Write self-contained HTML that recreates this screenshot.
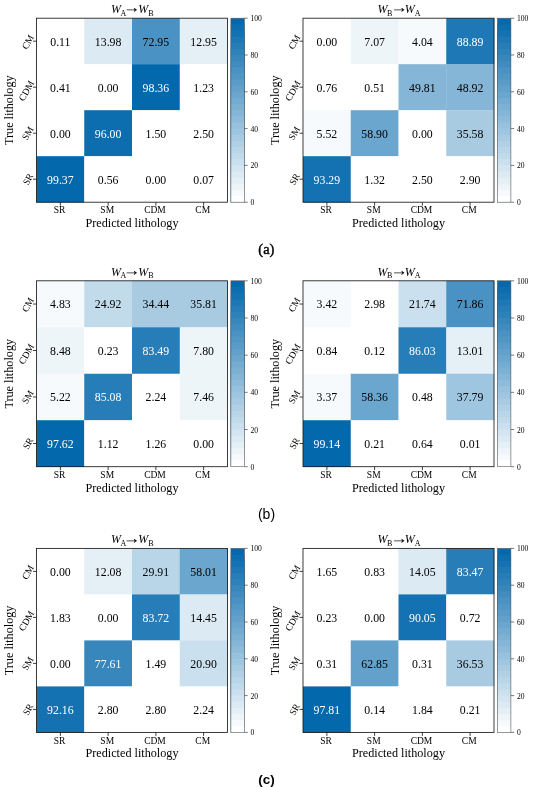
<!DOCTYPE html><html><head><meta charset="utf-8"><title>Confusion matrices</title>
<style>html,body{margin:0;padding:0;background:#fff}svg{display:block}text{font-family:"Liberation Serif","Times New Roman",serif}</style></head><body>
<svg width="533" height="787" viewBox="0 0 533 787">
<rect width="533" height="787" fill="#fff"/>
<g>
<rect x="36.50" y="18.20" width="48.05" height="46.30" fill="#ffffff"/>
<rect x="84.25" y="18.20" width="48.05" height="46.30" fill="#dceaf4"/>
<rect x="132.00" y="18.20" width="48.05" height="46.30" fill="#4992c3"/>
<rect x="179.75" y="18.20" width="48.05" height="46.30" fill="#e5eff6"/>
<rect x="36.50" y="64.20" width="48.05" height="46.30" fill="#ffffff"/>
<rect x="84.25" y="64.20" width="48.05" height="46.30" fill="#ffffff"/>
<rect x="132.00" y="64.20" width="48.05" height="46.30" fill="#0368ac"/>
<rect x="179.75" y="64.20" width="48.05" height="46.30" fill="#ffffff"/>
<rect x="36.50" y="110.20" width="48.05" height="46.30" fill="#ffffff"/>
<rect x="84.25" y="110.20" width="48.05" height="46.30" fill="#0c6daf"/>
<rect x="132.00" y="110.20" width="48.05" height="46.30" fill="#ffffff"/>
<rect x="179.75" y="110.20" width="48.05" height="46.30" fill="#ffffff"/>
<rect x="36.50" y="156.20" width="48.05" height="46.30" fill="#0368ac"/>
<rect x="84.25" y="156.20" width="48.05" height="46.30" fill="#ffffff"/>
<rect x="132.00" y="156.20" width="48.05" height="46.30" fill="#ffffff"/>
<rect x="179.75" y="156.20" width="48.05" height="46.30" fill="#ffffff"/>
<text x="60.38" y="45.50" font-size="11.8" text-anchor="middle" fill="#000">0.11</text>
<text x="108.12" y="45.50" font-size="11.8" text-anchor="middle" fill="#000">13.98</text>
<text x="155.88" y="45.50" font-size="11.8" text-anchor="middle" fill="#000">72.95</text>
<text x="203.62" y="45.50" font-size="11.8" text-anchor="middle" fill="#000">12.95</text>
<text x="60.38" y="91.50" font-size="11.8" text-anchor="middle" fill="#000">0.41</text>
<text x="108.12" y="91.50" font-size="11.8" text-anchor="middle" fill="#000">0.00</text>
<text x="155.88" y="91.50" font-size="11.8" text-anchor="middle" fill="#fff">98.36</text>
<text x="203.62" y="91.50" font-size="11.8" text-anchor="middle" fill="#000">1.23</text>
<text x="60.38" y="137.50" font-size="11.8" text-anchor="middle" fill="#000">0.00</text>
<text x="108.12" y="137.50" font-size="11.8" text-anchor="middle" fill="#fff">96.00</text>
<text x="155.88" y="137.50" font-size="11.8" text-anchor="middle" fill="#000">1.50</text>
<text x="203.62" y="137.50" font-size="11.8" text-anchor="middle" fill="#000">2.50</text>
<text x="60.38" y="183.50" font-size="11.8" text-anchor="middle" fill="#fff">99.37</text>
<text x="108.12" y="183.50" font-size="11.8" text-anchor="middle" fill="#000">0.56</text>
<text x="155.88" y="183.50" font-size="11.8" text-anchor="middle" fill="#000">0.00</text>
<text x="203.62" y="183.50" font-size="11.8" text-anchor="middle" fill="#000">0.07</text>
<rect x="36.50" y="18.20" width="191.00" height="184.00" fill="none" stroke="#1a1a1a" stroke-width="0.85"/>
<line x1="60.38" y1="202.20" x2="60.38" y2="205.70" stroke="#111" stroke-width="0.8"/>
<text x="59.48" y="213.40" font-size="9.5" text-anchor="middle">SR</text>
<line x1="108.12" y1="202.20" x2="108.12" y2="205.70" stroke="#111" stroke-width="0.8"/>
<text x="107.22" y="213.40" font-size="9.5" text-anchor="middle">SM</text>
<line x1="155.88" y1="202.20" x2="155.88" y2="205.70" stroke="#111" stroke-width="0.8"/>
<text x="154.97" y="213.40" font-size="9.5" text-anchor="middle">CDM</text>
<line x1="203.62" y1="202.20" x2="203.62" y2="205.70" stroke="#111" stroke-width="0.8"/>
<text x="202.72" y="213.40" font-size="9.5" text-anchor="middle">CM</text>
<line x1="33.00" y1="41.20" x2="36.50" y2="41.20" stroke="#111" stroke-width="0.8"/>
<text transform="translate(27.90,42.00) rotate(-60)" x="0" y="3.15" font-size="9.5" text-anchor="middle">CM</text>
<line x1="33.00" y1="87.20" x2="36.50" y2="87.20" stroke="#111" stroke-width="0.8"/>
<text transform="translate(26.40,90.70) rotate(-60)" x="0" y="3.15" font-size="9.5" text-anchor="middle">CDM</text>
<line x1="33.00" y1="133.20" x2="36.50" y2="133.20" stroke="#111" stroke-width="0.8"/>
<text transform="translate(27.75,133.30) rotate(-60)" x="0" y="3.15" font-size="9.5" text-anchor="middle">SM</text>
<line x1="33.00" y1="179.20" x2="36.50" y2="179.20" stroke="#111" stroke-width="0.8"/>
<text transform="translate(28.15,179.20) rotate(-60)" x="0" y="3.15" font-size="9.5" text-anchor="middle">SR</text>
<text x="132.00" y="226.60" font-size="12.2" text-anchor="middle">Predicted lithology</text>
<text transform="translate(12.70,110.20) rotate(-90)" font-size="12.2" text-anchor="middle">True lithology</text>
<text x="111.10" y="13.20" font-size="12" font-style="italic">W</text>
<text x="120.50" y="15.50" font-size="8">A</text>
<text x="126.10" y="14.40" font-size="11.5" stroke="#000" stroke-width="0.25" style="font-family:'WenQuanYi Zen Hei','DejaVu Sans',sans-serif">→</text>
<text x="138.30" y="13.20" font-size="12" font-style="italic">W</text>
<text x="148.30" y="15.50" font-size="8">B</text>
<rect x="230.90" y="18.20" width="13.50" height="184.00" fill="#0368ac"/>
<rect x="230.90" y="24.33" width="13.50" height="177.87" fill="#0c6daf"/>
<rect x="230.90" y="30.47" width="13.50" height="171.73" fill="#1472b2"/>
<rect x="230.90" y="36.60" width="13.50" height="165.60" fill="#1d78b5"/>
<rect x="230.90" y="42.73" width="13.50" height="159.47" fill="#267db7"/>
<rect x="230.90" y="48.87" width="13.50" height="153.33" fill="#2e82ba"/>
<rect x="230.90" y="55.00" width="13.50" height="147.20" fill="#3787bd"/>
<rect x="230.90" y="61.13" width="13.50" height="141.07" fill="#408cc0"/>
<rect x="230.90" y="67.27" width="13.50" height="134.93" fill="#4992c3"/>
<rect x="230.90" y="73.40" width="13.50" height="128.80" fill="#5197c6"/>
<rect x="230.90" y="79.53" width="13.50" height="122.67" fill="#5a9cc9"/>
<rect x="230.90" y="85.67" width="13.50" height="116.53" fill="#63a1cb"/>
<rect x="230.90" y="91.80" width="13.50" height="110.40" fill="#6ba6ce"/>
<rect x="230.90" y="97.93" width="13.50" height="104.27" fill="#74acd1"/>
<rect x="230.90" y="104.07" width="13.50" height="98.13" fill="#7db1d4"/>
<rect x="230.90" y="110.20" width="13.50" height="92.00" fill="#85b6d7"/>
<rect x="230.90" y="116.33" width="13.50" height="85.87" fill="#8ebbda"/>
<rect x="230.90" y="122.47" width="13.50" height="79.73" fill="#97c1dd"/>
<rect x="230.90" y="128.60" width="13.50" height="73.60" fill="#9fc6e0"/>
<rect x="230.90" y="134.73" width="13.50" height="67.47" fill="#a8cbe2"/>
<rect x="230.90" y="140.87" width="13.50" height="61.33" fill="#b1d0e5"/>
<rect x="230.90" y="147.00" width="13.50" height="55.20" fill="#b9d5e8"/>
<rect x="230.90" y="153.13" width="13.50" height="49.07" fill="#c2dbeb"/>
<rect x="230.90" y="159.27" width="13.50" height="42.93" fill="#cbe0ee"/>
<rect x="230.90" y="165.40" width="13.50" height="36.80" fill="#d4e5f1"/>
<rect x="230.90" y="171.53" width="13.50" height="30.67" fill="#dceaf4"/>
<rect x="230.90" y="177.67" width="13.50" height="24.53" fill="#e5eff6"/>
<rect x="230.90" y="183.80" width="13.50" height="18.40" fill="#eef5f9"/>
<rect x="230.90" y="189.93" width="13.50" height="12.27" fill="#f6fafc"/>
<rect x="230.90" y="196.07" width="13.50" height="6.13" fill="#ffffff"/>
<rect x="230.90" y="18.20" width="13.50" height="184.00" fill="none" stroke="#5a5a5a" stroke-width="0.6"/>
<line x1="244.40" y1="202.20" x2="247.70" y2="202.20" stroke="#444" stroke-width="0.7"/>
<text x="250.40" y="205.20" font-size="7.6">0</text>
<line x1="244.40" y1="165.40" x2="247.70" y2="165.40" stroke="#444" stroke-width="0.7"/>
<text x="250.40" y="168.40" font-size="7.6">20</text>
<line x1="244.40" y1="128.60" x2="247.70" y2="128.60" stroke="#444" stroke-width="0.7"/>
<text x="250.40" y="131.60" font-size="7.6">40</text>
<line x1="244.40" y1="91.80" x2="247.70" y2="91.80" stroke="#444" stroke-width="0.7"/>
<text x="250.40" y="94.80" font-size="7.6">60</text>
<line x1="244.40" y1="55.00" x2="247.70" y2="55.00" stroke="#444" stroke-width="0.7"/>
<text x="250.40" y="58.00" font-size="7.6">80</text>
<line x1="244.40" y1="18.20" x2="247.70" y2="18.20" stroke="#444" stroke-width="0.7"/>
<text x="250.40" y="21.20" font-size="7.6">100</text>
</g>
<g>
<rect x="303.00" y="18.20" width="48.05" height="46.30" fill="#ffffff"/>
<rect x="350.75" y="18.20" width="48.05" height="46.30" fill="#eef5f9"/>
<rect x="398.50" y="18.20" width="48.05" height="46.30" fill="#f6fafc"/>
<rect x="446.25" y="18.20" width="48.05" height="46.30" fill="#1d78b5"/>
<rect x="303.00" y="64.20" width="48.05" height="46.30" fill="#ffffff"/>
<rect x="350.75" y="64.20" width="48.05" height="46.30" fill="#ffffff"/>
<rect x="398.50" y="64.20" width="48.05" height="46.30" fill="#85b6d7"/>
<rect x="446.25" y="64.20" width="48.05" height="46.30" fill="#85b6d7"/>
<rect x="303.00" y="110.20" width="48.05" height="46.30" fill="#f6fafc"/>
<rect x="350.75" y="110.20" width="48.05" height="46.30" fill="#6ba6ce"/>
<rect x="398.50" y="110.20" width="48.05" height="46.30" fill="#ffffff"/>
<rect x="446.25" y="110.20" width="48.05" height="46.30" fill="#a8cbe2"/>
<rect x="303.00" y="156.20" width="48.05" height="46.30" fill="#1472b2"/>
<rect x="350.75" y="156.20" width="48.05" height="46.30" fill="#ffffff"/>
<rect x="398.50" y="156.20" width="48.05" height="46.30" fill="#ffffff"/>
<rect x="446.25" y="156.20" width="48.05" height="46.30" fill="#ffffff"/>
<text x="326.88" y="45.50" font-size="11.8" text-anchor="middle" fill="#000">0.00</text>
<text x="374.62" y="45.50" font-size="11.8" text-anchor="middle" fill="#000">7.07</text>
<text x="422.38" y="45.50" font-size="11.8" text-anchor="middle" fill="#000">4.04</text>
<text x="470.12" y="45.50" font-size="11.8" text-anchor="middle" fill="#fff">88.89</text>
<text x="326.88" y="91.50" font-size="11.8" text-anchor="middle" fill="#000">0.76</text>
<text x="374.62" y="91.50" font-size="11.8" text-anchor="middle" fill="#000">0.51</text>
<text x="422.38" y="91.50" font-size="11.8" text-anchor="middle" fill="#000">49.81</text>
<text x="470.12" y="91.50" font-size="11.8" text-anchor="middle" fill="#000">48.92</text>
<text x="326.88" y="137.50" font-size="11.8" text-anchor="middle" fill="#000">5.52</text>
<text x="374.62" y="137.50" font-size="11.8" text-anchor="middle" fill="#000">58.90</text>
<text x="422.38" y="137.50" font-size="11.8" text-anchor="middle" fill="#000">0.00</text>
<text x="470.12" y="137.50" font-size="11.8" text-anchor="middle" fill="#000">35.58</text>
<text x="326.88" y="183.50" font-size="11.8" text-anchor="middle" fill="#fff">93.29</text>
<text x="374.62" y="183.50" font-size="11.8" text-anchor="middle" fill="#000">1.32</text>
<text x="422.38" y="183.50" font-size="11.8" text-anchor="middle" fill="#000">2.50</text>
<text x="470.12" y="183.50" font-size="11.8" text-anchor="middle" fill="#000">2.90</text>
<rect x="303.00" y="18.20" width="191.00" height="184.00" fill="none" stroke="#1a1a1a" stroke-width="0.85"/>
<line x1="326.88" y1="202.20" x2="326.88" y2="205.70" stroke="#111" stroke-width="0.8"/>
<text x="325.98" y="213.40" font-size="9.5" text-anchor="middle">SR</text>
<line x1="374.62" y1="202.20" x2="374.62" y2="205.70" stroke="#111" stroke-width="0.8"/>
<text x="373.73" y="213.40" font-size="9.5" text-anchor="middle">SM</text>
<line x1="422.38" y1="202.20" x2="422.38" y2="205.70" stroke="#111" stroke-width="0.8"/>
<text x="421.48" y="213.40" font-size="9.5" text-anchor="middle">CDM</text>
<line x1="470.12" y1="202.20" x2="470.12" y2="205.70" stroke="#111" stroke-width="0.8"/>
<text x="469.23" y="213.40" font-size="9.5" text-anchor="middle">CM</text>
<line x1="299.50" y1="41.20" x2="303.00" y2="41.20" stroke="#111" stroke-width="0.8"/>
<text transform="translate(294.40,42.00) rotate(-60)" x="0" y="3.15" font-size="9.5" text-anchor="middle">CM</text>
<line x1="299.50" y1="87.20" x2="303.00" y2="87.20" stroke="#111" stroke-width="0.8"/>
<text transform="translate(292.90,90.70) rotate(-60)" x="0" y="3.15" font-size="9.5" text-anchor="middle">CDM</text>
<line x1="299.50" y1="133.20" x2="303.00" y2="133.20" stroke="#111" stroke-width="0.8"/>
<text transform="translate(294.25,133.30) rotate(-60)" x="0" y="3.15" font-size="9.5" text-anchor="middle">SM</text>
<line x1="299.50" y1="179.20" x2="303.00" y2="179.20" stroke="#111" stroke-width="0.8"/>
<text transform="translate(294.65,179.20) rotate(-60)" x="0" y="3.15" font-size="9.5" text-anchor="middle">SR</text>
<text x="398.50" y="226.60" font-size="12.2" text-anchor="middle">Predicted lithology</text>
<text transform="translate(279.20,110.20) rotate(-90)" font-size="12.2" text-anchor="middle">True lithology</text>
<text x="377.60" y="13.20" font-size="12" font-style="italic">W</text>
<text x="387.00" y="15.50" font-size="8">B</text>
<text x="393.50" y="14.40" font-size="11.5" stroke="#000" stroke-width="0.25" style="font-family:'WenQuanYi Zen Hei','DejaVu Sans',sans-serif">→</text>
<text x="404.80" y="13.20" font-size="12" font-style="italic">W</text>
<text x="414.80" y="15.50" font-size="8">A</text>
<rect x="497.40" y="18.20" width="13.50" height="184.00" fill="#0368ac"/>
<rect x="497.40" y="24.33" width="13.50" height="177.87" fill="#0c6daf"/>
<rect x="497.40" y="30.47" width="13.50" height="171.73" fill="#1472b2"/>
<rect x="497.40" y="36.60" width="13.50" height="165.60" fill="#1d78b5"/>
<rect x="497.40" y="42.73" width="13.50" height="159.47" fill="#267db7"/>
<rect x="497.40" y="48.87" width="13.50" height="153.33" fill="#2e82ba"/>
<rect x="497.40" y="55.00" width="13.50" height="147.20" fill="#3787bd"/>
<rect x="497.40" y="61.13" width="13.50" height="141.07" fill="#408cc0"/>
<rect x="497.40" y="67.27" width="13.50" height="134.93" fill="#4992c3"/>
<rect x="497.40" y="73.40" width="13.50" height="128.80" fill="#5197c6"/>
<rect x="497.40" y="79.53" width="13.50" height="122.67" fill="#5a9cc9"/>
<rect x="497.40" y="85.67" width="13.50" height="116.53" fill="#63a1cb"/>
<rect x="497.40" y="91.80" width="13.50" height="110.40" fill="#6ba6ce"/>
<rect x="497.40" y="97.93" width="13.50" height="104.27" fill="#74acd1"/>
<rect x="497.40" y="104.07" width="13.50" height="98.13" fill="#7db1d4"/>
<rect x="497.40" y="110.20" width="13.50" height="92.00" fill="#85b6d7"/>
<rect x="497.40" y="116.33" width="13.50" height="85.87" fill="#8ebbda"/>
<rect x="497.40" y="122.47" width="13.50" height="79.73" fill="#97c1dd"/>
<rect x="497.40" y="128.60" width="13.50" height="73.60" fill="#9fc6e0"/>
<rect x="497.40" y="134.73" width="13.50" height="67.47" fill="#a8cbe2"/>
<rect x="497.40" y="140.87" width="13.50" height="61.33" fill="#b1d0e5"/>
<rect x="497.40" y="147.00" width="13.50" height="55.20" fill="#b9d5e8"/>
<rect x="497.40" y="153.13" width="13.50" height="49.07" fill="#c2dbeb"/>
<rect x="497.40" y="159.27" width="13.50" height="42.93" fill="#cbe0ee"/>
<rect x="497.40" y="165.40" width="13.50" height="36.80" fill="#d4e5f1"/>
<rect x="497.40" y="171.53" width="13.50" height="30.67" fill="#dceaf4"/>
<rect x="497.40" y="177.67" width="13.50" height="24.53" fill="#e5eff6"/>
<rect x="497.40" y="183.80" width="13.50" height="18.40" fill="#eef5f9"/>
<rect x="497.40" y="189.93" width="13.50" height="12.27" fill="#f6fafc"/>
<rect x="497.40" y="196.07" width="13.50" height="6.13" fill="#ffffff"/>
<rect x="497.40" y="18.20" width="13.50" height="184.00" fill="none" stroke="#5a5a5a" stroke-width="0.6"/>
<line x1="510.90" y1="202.20" x2="514.20" y2="202.20" stroke="#444" stroke-width="0.7"/>
<text x="516.90" y="205.20" font-size="7.6">0</text>
<line x1="510.90" y1="165.40" x2="514.20" y2="165.40" stroke="#444" stroke-width="0.7"/>
<text x="516.90" y="168.40" font-size="7.6">20</text>
<line x1="510.90" y1="128.60" x2="514.20" y2="128.60" stroke="#444" stroke-width="0.7"/>
<text x="516.90" y="131.60" font-size="7.6">40</text>
<line x1="510.90" y1="91.80" x2="514.20" y2="91.80" stroke="#444" stroke-width="0.7"/>
<text x="516.90" y="94.80" font-size="7.6">60</text>
<line x1="510.90" y1="55.00" x2="514.20" y2="55.00" stroke="#444" stroke-width="0.7"/>
<text x="516.90" y="58.00" font-size="7.6">80</text>
<line x1="510.90" y1="18.20" x2="514.20" y2="18.20" stroke="#444" stroke-width="0.7"/>
<text x="516.90" y="21.20" font-size="7.6">100</text>
</g>
<g>
<rect x="36.50" y="280.80" width="48.05" height="46.77" fill="#f6fafc"/>
<rect x="84.25" y="280.80" width="48.05" height="46.77" fill="#c2dbeb"/>
<rect x="132.00" y="280.80" width="48.05" height="46.77" fill="#a8cbe2"/>
<rect x="179.75" y="280.80" width="48.05" height="46.77" fill="#a8cbe2"/>
<rect x="36.50" y="327.27" width="48.05" height="46.77" fill="#eef5f9"/>
<rect x="84.25" y="327.27" width="48.05" height="46.77" fill="#ffffff"/>
<rect x="132.00" y="327.27" width="48.05" height="46.77" fill="#267db7"/>
<rect x="179.75" y="327.27" width="48.05" height="46.77" fill="#eef5f9"/>
<rect x="36.50" y="373.75" width="48.05" height="46.77" fill="#f6fafc"/>
<rect x="84.25" y="373.75" width="48.05" height="46.77" fill="#267db7"/>
<rect x="132.00" y="373.75" width="48.05" height="46.77" fill="#ffffff"/>
<rect x="179.75" y="373.75" width="48.05" height="46.77" fill="#eef5f9"/>
<rect x="36.50" y="420.23" width="48.05" height="46.77" fill="#0368ac"/>
<rect x="84.25" y="420.23" width="48.05" height="46.77" fill="#ffffff"/>
<rect x="132.00" y="420.23" width="48.05" height="46.77" fill="#ffffff"/>
<rect x="179.75" y="420.23" width="48.05" height="46.77" fill="#ffffff"/>
<text x="60.38" y="308.34" font-size="11.8" text-anchor="middle" fill="#000">4.83</text>
<text x="108.12" y="308.34" font-size="11.8" text-anchor="middle" fill="#000">24.92</text>
<text x="155.88" y="308.34" font-size="11.8" text-anchor="middle" fill="#000">34.44</text>
<text x="203.62" y="308.34" font-size="11.8" text-anchor="middle" fill="#000">35.81</text>
<text x="60.38" y="354.81" font-size="11.8" text-anchor="middle" fill="#000">8.48</text>
<text x="108.12" y="354.81" font-size="11.8" text-anchor="middle" fill="#000">0.23</text>
<text x="155.88" y="354.81" font-size="11.8" text-anchor="middle" fill="#fff">83.49</text>
<text x="203.62" y="354.81" font-size="11.8" text-anchor="middle" fill="#000">7.80</text>
<text x="60.38" y="401.29" font-size="11.8" text-anchor="middle" fill="#000">5.22</text>
<text x="108.12" y="401.29" font-size="11.8" text-anchor="middle" fill="#fff">85.08</text>
<text x="155.88" y="401.29" font-size="11.8" text-anchor="middle" fill="#000">2.24</text>
<text x="203.62" y="401.29" font-size="11.8" text-anchor="middle" fill="#000">7.46</text>
<text x="60.38" y="447.76" font-size="11.8" text-anchor="middle" fill="#fff">97.62</text>
<text x="108.12" y="447.76" font-size="11.8" text-anchor="middle" fill="#000">1.12</text>
<text x="155.88" y="447.76" font-size="11.8" text-anchor="middle" fill="#000">1.26</text>
<text x="203.62" y="447.76" font-size="11.8" text-anchor="middle" fill="#000">0.00</text>
<rect x="36.50" y="280.80" width="191.00" height="185.90" fill="none" stroke="#1a1a1a" stroke-width="0.85"/>
<line x1="60.38" y1="466.70" x2="60.38" y2="470.20" stroke="#111" stroke-width="0.8"/>
<text x="59.48" y="477.90" font-size="9.5" text-anchor="middle">SR</text>
<line x1="108.12" y1="466.70" x2="108.12" y2="470.20" stroke="#111" stroke-width="0.8"/>
<text x="107.22" y="477.90" font-size="9.5" text-anchor="middle">SM</text>
<line x1="155.88" y1="466.70" x2="155.88" y2="470.20" stroke="#111" stroke-width="0.8"/>
<text x="154.97" y="477.90" font-size="9.5" text-anchor="middle">CDM</text>
<line x1="203.62" y1="466.70" x2="203.62" y2="470.20" stroke="#111" stroke-width="0.8"/>
<text x="202.72" y="477.90" font-size="9.5" text-anchor="middle">CM</text>
<line x1="33.00" y1="304.04" x2="36.50" y2="304.04" stroke="#111" stroke-width="0.8"/>
<text transform="translate(27.90,304.84) rotate(-60)" x="0" y="3.15" font-size="9.5" text-anchor="middle">CM</text>
<line x1="33.00" y1="350.51" x2="36.50" y2="350.51" stroke="#111" stroke-width="0.8"/>
<text transform="translate(26.40,354.01) rotate(-60)" x="0" y="3.15" font-size="9.5" text-anchor="middle">CDM</text>
<line x1="33.00" y1="396.99" x2="36.50" y2="396.99" stroke="#111" stroke-width="0.8"/>
<text transform="translate(27.75,397.09) rotate(-60)" x="0" y="3.15" font-size="9.5" text-anchor="middle">SM</text>
<line x1="33.00" y1="443.46" x2="36.50" y2="443.46" stroke="#111" stroke-width="0.8"/>
<text transform="translate(28.15,443.46) rotate(-60)" x="0" y="3.15" font-size="9.5" text-anchor="middle">SR</text>
<text x="132.00" y="491.50" font-size="12.2" text-anchor="middle">Predicted lithology</text>
<text transform="translate(12.70,373.75) rotate(-90)" font-size="12.2" text-anchor="middle">True lithology</text>
<text x="111.10" y="275.80" font-size="12" font-style="italic">W</text>
<text x="120.50" y="278.10" font-size="8">A</text>
<text x="126.10" y="277.00" font-size="11.5" stroke="#000" stroke-width="0.25" style="font-family:'WenQuanYi Zen Hei','DejaVu Sans',sans-serif">→</text>
<text x="138.30" y="275.80" font-size="12" font-style="italic">W</text>
<text x="148.30" y="278.10" font-size="8">B</text>
<rect x="230.90" y="280.80" width="13.50" height="185.90" fill="#0368ac"/>
<rect x="230.90" y="287.00" width="13.50" height="179.70" fill="#0c6daf"/>
<rect x="230.90" y="293.19" width="13.50" height="173.51" fill="#1472b2"/>
<rect x="230.90" y="299.39" width="13.50" height="167.31" fill="#1d78b5"/>
<rect x="230.90" y="305.59" width="13.50" height="161.11" fill="#267db7"/>
<rect x="230.90" y="311.78" width="13.50" height="154.92" fill="#2e82ba"/>
<rect x="230.90" y="317.98" width="13.50" height="148.72" fill="#3787bd"/>
<rect x="230.90" y="324.18" width="13.50" height="142.52" fill="#408cc0"/>
<rect x="230.90" y="330.37" width="13.50" height="136.33" fill="#4992c3"/>
<rect x="230.90" y="336.57" width="13.50" height="130.13" fill="#5197c6"/>
<rect x="230.90" y="342.77" width="13.50" height="123.93" fill="#5a9cc9"/>
<rect x="230.90" y="348.96" width="13.50" height="117.74" fill="#63a1cb"/>
<rect x="230.90" y="355.16" width="13.50" height="111.54" fill="#6ba6ce"/>
<rect x="230.90" y="361.36" width="13.50" height="105.34" fill="#74acd1"/>
<rect x="230.90" y="367.55" width="13.50" height="99.15" fill="#7db1d4"/>
<rect x="230.90" y="373.75" width="13.50" height="92.95" fill="#85b6d7"/>
<rect x="230.90" y="379.95" width="13.50" height="86.75" fill="#8ebbda"/>
<rect x="230.90" y="386.14" width="13.50" height="80.56" fill="#97c1dd"/>
<rect x="230.90" y="392.34" width="13.50" height="74.36" fill="#9fc6e0"/>
<rect x="230.90" y="398.54" width="13.50" height="68.16" fill="#a8cbe2"/>
<rect x="230.90" y="404.73" width="13.50" height="61.97" fill="#b1d0e5"/>
<rect x="230.90" y="410.93" width="13.50" height="55.77" fill="#b9d5e8"/>
<rect x="230.90" y="417.13" width="13.50" height="49.57" fill="#c2dbeb"/>
<rect x="230.90" y="423.32" width="13.50" height="43.38" fill="#cbe0ee"/>
<rect x="230.90" y="429.52" width="13.50" height="37.18" fill="#d4e5f1"/>
<rect x="230.90" y="435.72" width="13.50" height="30.98" fill="#dceaf4"/>
<rect x="230.90" y="441.91" width="13.50" height="24.79" fill="#e5eff6"/>
<rect x="230.90" y="448.11" width="13.50" height="18.59" fill="#eef5f9"/>
<rect x="230.90" y="454.31" width="13.50" height="12.39" fill="#f6fafc"/>
<rect x="230.90" y="460.50" width="13.50" height="6.20" fill="#ffffff"/>
<rect x="230.90" y="280.80" width="13.50" height="185.90" fill="none" stroke="#5a5a5a" stroke-width="0.6"/>
<line x1="244.40" y1="466.70" x2="247.70" y2="466.70" stroke="#444" stroke-width="0.7"/>
<text x="250.40" y="469.70" font-size="7.6">0</text>
<line x1="244.40" y1="429.52" x2="247.70" y2="429.52" stroke="#444" stroke-width="0.7"/>
<text x="250.40" y="432.52" font-size="7.6">20</text>
<line x1="244.40" y1="392.34" x2="247.70" y2="392.34" stroke="#444" stroke-width="0.7"/>
<text x="250.40" y="395.34" font-size="7.6">40</text>
<line x1="244.40" y1="355.16" x2="247.70" y2="355.16" stroke="#444" stroke-width="0.7"/>
<text x="250.40" y="358.16" font-size="7.6">60</text>
<line x1="244.40" y1="317.98" x2="247.70" y2="317.98" stroke="#444" stroke-width="0.7"/>
<text x="250.40" y="320.98" font-size="7.6">80</text>
<line x1="244.40" y1="280.80" x2="247.70" y2="280.80" stroke="#444" stroke-width="0.7"/>
<text x="250.40" y="283.80" font-size="7.6">100</text>
</g>
<g>
<rect x="303.00" y="280.80" width="48.05" height="46.77" fill="#f6fafc"/>
<rect x="350.75" y="280.80" width="48.05" height="46.77" fill="#ffffff"/>
<rect x="398.50" y="280.80" width="48.05" height="46.77" fill="#cbe0ee"/>
<rect x="446.25" y="280.80" width="48.05" height="46.77" fill="#4992c3"/>
<rect x="303.00" y="327.27" width="48.05" height="46.77" fill="#ffffff"/>
<rect x="350.75" y="327.27" width="48.05" height="46.77" fill="#ffffff"/>
<rect x="398.50" y="327.27" width="48.05" height="46.77" fill="#267db7"/>
<rect x="446.25" y="327.27" width="48.05" height="46.77" fill="#e5eff6"/>
<rect x="303.00" y="373.75" width="48.05" height="46.77" fill="#f6fafc"/>
<rect x="350.75" y="373.75" width="48.05" height="46.77" fill="#6ba6ce"/>
<rect x="398.50" y="373.75" width="48.05" height="46.77" fill="#ffffff"/>
<rect x="446.25" y="373.75" width="48.05" height="46.77" fill="#9fc6e0"/>
<rect x="303.00" y="420.23" width="48.05" height="46.77" fill="#0368ac"/>
<rect x="350.75" y="420.23" width="48.05" height="46.77" fill="#ffffff"/>
<rect x="398.50" y="420.23" width="48.05" height="46.77" fill="#ffffff"/>
<rect x="446.25" y="420.23" width="48.05" height="46.77" fill="#ffffff"/>
<text x="326.88" y="308.34" font-size="11.8" text-anchor="middle" fill="#000">3.42</text>
<text x="374.62" y="308.34" font-size="11.8" text-anchor="middle" fill="#000">2.98</text>
<text x="422.38" y="308.34" font-size="11.8" text-anchor="middle" fill="#000">21.74</text>
<text x="470.12" y="308.34" font-size="11.8" text-anchor="middle" fill="#000">71.86</text>
<text x="326.88" y="354.81" font-size="11.8" text-anchor="middle" fill="#000">0.84</text>
<text x="374.62" y="354.81" font-size="11.8" text-anchor="middle" fill="#000">0.12</text>
<text x="422.38" y="354.81" font-size="11.8" text-anchor="middle" fill="#fff">86.03</text>
<text x="470.12" y="354.81" font-size="11.8" text-anchor="middle" fill="#000">13.01</text>
<text x="326.88" y="401.29" font-size="11.8" text-anchor="middle" fill="#000">3.37</text>
<text x="374.62" y="401.29" font-size="11.8" text-anchor="middle" fill="#000">58.36</text>
<text x="422.38" y="401.29" font-size="11.8" text-anchor="middle" fill="#000">0.48</text>
<text x="470.12" y="401.29" font-size="11.8" text-anchor="middle" fill="#000">37.79</text>
<text x="326.88" y="447.76" font-size="11.8" text-anchor="middle" fill="#fff">99.14</text>
<text x="374.62" y="447.76" font-size="11.8" text-anchor="middle" fill="#000">0.21</text>
<text x="422.38" y="447.76" font-size="11.8" text-anchor="middle" fill="#000">0.64</text>
<text x="470.12" y="447.76" font-size="11.8" text-anchor="middle" fill="#000">0.01</text>
<rect x="303.00" y="280.80" width="191.00" height="185.90" fill="none" stroke="#1a1a1a" stroke-width="0.85"/>
<line x1="326.88" y1="466.70" x2="326.88" y2="470.20" stroke="#111" stroke-width="0.8"/>
<text x="325.98" y="477.90" font-size="9.5" text-anchor="middle">SR</text>
<line x1="374.62" y1="466.70" x2="374.62" y2="470.20" stroke="#111" stroke-width="0.8"/>
<text x="373.73" y="477.90" font-size="9.5" text-anchor="middle">SM</text>
<line x1="422.38" y1="466.70" x2="422.38" y2="470.20" stroke="#111" stroke-width="0.8"/>
<text x="421.48" y="477.90" font-size="9.5" text-anchor="middle">CDM</text>
<line x1="470.12" y1="466.70" x2="470.12" y2="470.20" stroke="#111" stroke-width="0.8"/>
<text x="469.23" y="477.90" font-size="9.5" text-anchor="middle">CM</text>
<line x1="299.50" y1="304.04" x2="303.00" y2="304.04" stroke="#111" stroke-width="0.8"/>
<text transform="translate(294.40,304.84) rotate(-60)" x="0" y="3.15" font-size="9.5" text-anchor="middle">CM</text>
<line x1="299.50" y1="350.51" x2="303.00" y2="350.51" stroke="#111" stroke-width="0.8"/>
<text transform="translate(292.90,354.01) rotate(-60)" x="0" y="3.15" font-size="9.5" text-anchor="middle">CDM</text>
<line x1="299.50" y1="396.99" x2="303.00" y2="396.99" stroke="#111" stroke-width="0.8"/>
<text transform="translate(294.25,397.09) rotate(-60)" x="0" y="3.15" font-size="9.5" text-anchor="middle">SM</text>
<line x1="299.50" y1="443.46" x2="303.00" y2="443.46" stroke="#111" stroke-width="0.8"/>
<text transform="translate(294.65,443.46) rotate(-60)" x="0" y="3.15" font-size="9.5" text-anchor="middle">SR</text>
<text x="398.50" y="491.50" font-size="12.2" text-anchor="middle">Predicted lithology</text>
<text transform="translate(279.20,373.75) rotate(-90)" font-size="12.2" text-anchor="middle">True lithology</text>
<text x="377.60" y="275.80" font-size="12" font-style="italic">W</text>
<text x="387.00" y="278.10" font-size="8">B</text>
<text x="393.50" y="277.00" font-size="11.5" stroke="#000" stroke-width="0.25" style="font-family:'WenQuanYi Zen Hei','DejaVu Sans',sans-serif">→</text>
<text x="404.80" y="275.80" font-size="12" font-style="italic">W</text>
<text x="414.80" y="278.10" font-size="8">A</text>
<rect x="497.40" y="280.80" width="13.50" height="185.90" fill="#0368ac"/>
<rect x="497.40" y="287.00" width="13.50" height="179.70" fill="#0c6daf"/>
<rect x="497.40" y="293.19" width="13.50" height="173.51" fill="#1472b2"/>
<rect x="497.40" y="299.39" width="13.50" height="167.31" fill="#1d78b5"/>
<rect x="497.40" y="305.59" width="13.50" height="161.11" fill="#267db7"/>
<rect x="497.40" y="311.78" width="13.50" height="154.92" fill="#2e82ba"/>
<rect x="497.40" y="317.98" width="13.50" height="148.72" fill="#3787bd"/>
<rect x="497.40" y="324.18" width="13.50" height="142.52" fill="#408cc0"/>
<rect x="497.40" y="330.37" width="13.50" height="136.33" fill="#4992c3"/>
<rect x="497.40" y="336.57" width="13.50" height="130.13" fill="#5197c6"/>
<rect x="497.40" y="342.77" width="13.50" height="123.93" fill="#5a9cc9"/>
<rect x="497.40" y="348.96" width="13.50" height="117.74" fill="#63a1cb"/>
<rect x="497.40" y="355.16" width="13.50" height="111.54" fill="#6ba6ce"/>
<rect x="497.40" y="361.36" width="13.50" height="105.34" fill="#74acd1"/>
<rect x="497.40" y="367.55" width="13.50" height="99.15" fill="#7db1d4"/>
<rect x="497.40" y="373.75" width="13.50" height="92.95" fill="#85b6d7"/>
<rect x="497.40" y="379.95" width="13.50" height="86.75" fill="#8ebbda"/>
<rect x="497.40" y="386.14" width="13.50" height="80.56" fill="#97c1dd"/>
<rect x="497.40" y="392.34" width="13.50" height="74.36" fill="#9fc6e0"/>
<rect x="497.40" y="398.54" width="13.50" height="68.16" fill="#a8cbe2"/>
<rect x="497.40" y="404.73" width="13.50" height="61.97" fill="#b1d0e5"/>
<rect x="497.40" y="410.93" width="13.50" height="55.77" fill="#b9d5e8"/>
<rect x="497.40" y="417.13" width="13.50" height="49.57" fill="#c2dbeb"/>
<rect x="497.40" y="423.32" width="13.50" height="43.38" fill="#cbe0ee"/>
<rect x="497.40" y="429.52" width="13.50" height="37.18" fill="#d4e5f1"/>
<rect x="497.40" y="435.72" width="13.50" height="30.98" fill="#dceaf4"/>
<rect x="497.40" y="441.91" width="13.50" height="24.79" fill="#e5eff6"/>
<rect x="497.40" y="448.11" width="13.50" height="18.59" fill="#eef5f9"/>
<rect x="497.40" y="454.31" width="13.50" height="12.39" fill="#f6fafc"/>
<rect x="497.40" y="460.50" width="13.50" height="6.20" fill="#ffffff"/>
<rect x="497.40" y="280.80" width="13.50" height="185.90" fill="none" stroke="#5a5a5a" stroke-width="0.6"/>
<line x1="510.90" y1="466.70" x2="514.20" y2="466.70" stroke="#444" stroke-width="0.7"/>
<text x="516.90" y="469.70" font-size="7.6">0</text>
<line x1="510.90" y1="429.52" x2="514.20" y2="429.52" stroke="#444" stroke-width="0.7"/>
<text x="516.90" y="432.52" font-size="7.6">20</text>
<line x1="510.90" y1="392.34" x2="514.20" y2="392.34" stroke="#444" stroke-width="0.7"/>
<text x="516.90" y="395.34" font-size="7.6">40</text>
<line x1="510.90" y1="355.16" x2="514.20" y2="355.16" stroke="#444" stroke-width="0.7"/>
<text x="516.90" y="358.16" font-size="7.6">60</text>
<line x1="510.90" y1="317.98" x2="514.20" y2="317.98" stroke="#444" stroke-width="0.7"/>
<text x="516.90" y="320.98" font-size="7.6">80</text>
<line x1="510.90" y1="280.80" x2="514.20" y2="280.80" stroke="#444" stroke-width="0.7"/>
<text x="516.90" y="283.80" font-size="7.6">100</text>
</g>
<g>
<rect x="36.50" y="548.40" width="48.05" height="46.30" fill="#ffffff"/>
<rect x="84.25" y="548.40" width="48.05" height="46.30" fill="#e5eff6"/>
<rect x="132.00" y="548.40" width="48.05" height="46.30" fill="#b9d5e8"/>
<rect x="179.75" y="548.40" width="48.05" height="46.30" fill="#6ba6ce"/>
<rect x="36.50" y="594.40" width="48.05" height="46.30" fill="#ffffff"/>
<rect x="84.25" y="594.40" width="48.05" height="46.30" fill="#ffffff"/>
<rect x="132.00" y="594.40" width="48.05" height="46.30" fill="#267db7"/>
<rect x="179.75" y="594.40" width="48.05" height="46.30" fill="#dceaf4"/>
<rect x="36.50" y="640.40" width="48.05" height="46.30" fill="#ffffff"/>
<rect x="84.25" y="640.40" width="48.05" height="46.30" fill="#3787bd"/>
<rect x="132.00" y="640.40" width="48.05" height="46.30" fill="#ffffff"/>
<rect x="179.75" y="640.40" width="48.05" height="46.30" fill="#cbe0ee"/>
<rect x="36.50" y="686.40" width="48.05" height="46.30" fill="#1472b2"/>
<rect x="84.25" y="686.40" width="48.05" height="46.30" fill="#ffffff"/>
<rect x="132.00" y="686.40" width="48.05" height="46.30" fill="#ffffff"/>
<rect x="179.75" y="686.40" width="48.05" height="46.30" fill="#ffffff"/>
<text x="60.38" y="575.70" font-size="11.8" text-anchor="middle" fill="#000">0.00</text>
<text x="108.12" y="575.70" font-size="11.8" text-anchor="middle" fill="#000">12.08</text>
<text x="155.88" y="575.70" font-size="11.8" text-anchor="middle" fill="#000">29.91</text>
<text x="203.62" y="575.70" font-size="11.8" text-anchor="middle" fill="#000">58.01</text>
<text x="60.38" y="621.70" font-size="11.8" text-anchor="middle" fill="#000">1.83</text>
<text x="108.12" y="621.70" font-size="11.8" text-anchor="middle" fill="#000">0.00</text>
<text x="155.88" y="621.70" font-size="11.8" text-anchor="middle" fill="#fff">83.72</text>
<text x="203.62" y="621.70" font-size="11.8" text-anchor="middle" fill="#000">14.45</text>
<text x="60.38" y="667.70" font-size="11.8" text-anchor="middle" fill="#000">0.00</text>
<text x="108.12" y="667.70" font-size="11.8" text-anchor="middle" fill="#fff">77.61</text>
<text x="155.88" y="667.70" font-size="11.8" text-anchor="middle" fill="#000">1.49</text>
<text x="203.62" y="667.70" font-size="11.8" text-anchor="middle" fill="#000">20.90</text>
<text x="60.38" y="713.70" font-size="11.8" text-anchor="middle" fill="#fff">92.16</text>
<text x="108.12" y="713.70" font-size="11.8" text-anchor="middle" fill="#000">2.80</text>
<text x="155.88" y="713.70" font-size="11.8" text-anchor="middle" fill="#000">2.80</text>
<text x="203.62" y="713.70" font-size="11.8" text-anchor="middle" fill="#000">2.24</text>
<rect x="36.50" y="548.40" width="191.00" height="184.00" fill="none" stroke="#1a1a1a" stroke-width="0.85"/>
<line x1="60.38" y1="732.40" x2="60.38" y2="735.90" stroke="#111" stroke-width="0.8"/>
<text x="59.48" y="743.60" font-size="9.5" text-anchor="middle">SR</text>
<line x1="108.12" y1="732.40" x2="108.12" y2="735.90" stroke="#111" stroke-width="0.8"/>
<text x="107.22" y="743.60" font-size="9.5" text-anchor="middle">SM</text>
<line x1="155.88" y1="732.40" x2="155.88" y2="735.90" stroke="#111" stroke-width="0.8"/>
<text x="154.97" y="743.60" font-size="9.5" text-anchor="middle">CDM</text>
<line x1="203.62" y1="732.40" x2="203.62" y2="735.90" stroke="#111" stroke-width="0.8"/>
<text x="202.72" y="743.60" font-size="9.5" text-anchor="middle">CM</text>
<line x1="33.00" y1="571.40" x2="36.50" y2="571.40" stroke="#111" stroke-width="0.8"/>
<text transform="translate(27.90,572.20) rotate(-60)" x="0" y="3.15" font-size="9.5" text-anchor="middle">CM</text>
<line x1="33.00" y1="617.40" x2="36.50" y2="617.40" stroke="#111" stroke-width="0.8"/>
<text transform="translate(26.40,620.90) rotate(-60)" x="0" y="3.15" font-size="9.5" text-anchor="middle">CDM</text>
<line x1="33.00" y1="663.40" x2="36.50" y2="663.40" stroke="#111" stroke-width="0.8"/>
<text transform="translate(27.75,663.50) rotate(-60)" x="0" y="3.15" font-size="9.5" text-anchor="middle">SM</text>
<line x1="33.00" y1="709.40" x2="36.50" y2="709.40" stroke="#111" stroke-width="0.8"/>
<text transform="translate(28.15,709.40) rotate(-60)" x="0" y="3.15" font-size="9.5" text-anchor="middle">SR</text>
<text x="132.00" y="756.90" font-size="12.2" text-anchor="middle">Predicted lithology</text>
<text transform="translate(12.70,640.40) rotate(-90)" font-size="12.2" text-anchor="middle">True lithology</text>
<text x="111.10" y="543.40" font-size="12" font-style="italic">W</text>
<text x="120.50" y="545.70" font-size="8">A</text>
<text x="126.10" y="544.60" font-size="11.5" stroke="#000" stroke-width="0.25" style="font-family:'WenQuanYi Zen Hei','DejaVu Sans',sans-serif">→</text>
<text x="138.30" y="543.40" font-size="12" font-style="italic">W</text>
<text x="148.30" y="545.70" font-size="8">B</text>
<rect x="230.90" y="548.40" width="13.50" height="184.00" fill="#0368ac"/>
<rect x="230.90" y="554.53" width="13.50" height="177.87" fill="#0c6daf"/>
<rect x="230.90" y="560.67" width="13.50" height="171.73" fill="#1472b2"/>
<rect x="230.90" y="566.80" width="13.50" height="165.60" fill="#1d78b5"/>
<rect x="230.90" y="572.93" width="13.50" height="159.47" fill="#267db7"/>
<rect x="230.90" y="579.07" width="13.50" height="153.33" fill="#2e82ba"/>
<rect x="230.90" y="585.20" width="13.50" height="147.20" fill="#3787bd"/>
<rect x="230.90" y="591.33" width="13.50" height="141.07" fill="#408cc0"/>
<rect x="230.90" y="597.47" width="13.50" height="134.93" fill="#4992c3"/>
<rect x="230.90" y="603.60" width="13.50" height="128.80" fill="#5197c6"/>
<rect x="230.90" y="609.73" width="13.50" height="122.67" fill="#5a9cc9"/>
<rect x="230.90" y="615.87" width="13.50" height="116.53" fill="#63a1cb"/>
<rect x="230.90" y="622.00" width="13.50" height="110.40" fill="#6ba6ce"/>
<rect x="230.90" y="628.13" width="13.50" height="104.27" fill="#74acd1"/>
<rect x="230.90" y="634.27" width="13.50" height="98.13" fill="#7db1d4"/>
<rect x="230.90" y="640.40" width="13.50" height="92.00" fill="#85b6d7"/>
<rect x="230.90" y="646.53" width="13.50" height="85.87" fill="#8ebbda"/>
<rect x="230.90" y="652.67" width="13.50" height="79.73" fill="#97c1dd"/>
<rect x="230.90" y="658.80" width="13.50" height="73.60" fill="#9fc6e0"/>
<rect x="230.90" y="664.93" width="13.50" height="67.47" fill="#a8cbe2"/>
<rect x="230.90" y="671.07" width="13.50" height="61.33" fill="#b1d0e5"/>
<rect x="230.90" y="677.20" width="13.50" height="55.20" fill="#b9d5e8"/>
<rect x="230.90" y="683.33" width="13.50" height="49.07" fill="#c2dbeb"/>
<rect x="230.90" y="689.47" width="13.50" height="42.93" fill="#cbe0ee"/>
<rect x="230.90" y="695.60" width="13.50" height="36.80" fill="#d4e5f1"/>
<rect x="230.90" y="701.73" width="13.50" height="30.67" fill="#dceaf4"/>
<rect x="230.90" y="707.87" width="13.50" height="24.53" fill="#e5eff6"/>
<rect x="230.90" y="714.00" width="13.50" height="18.40" fill="#eef5f9"/>
<rect x="230.90" y="720.13" width="13.50" height="12.27" fill="#f6fafc"/>
<rect x="230.90" y="726.27" width="13.50" height="6.13" fill="#ffffff"/>
<rect x="230.90" y="548.40" width="13.50" height="184.00" fill="none" stroke="#5a5a5a" stroke-width="0.6"/>
<line x1="244.40" y1="732.40" x2="247.70" y2="732.40" stroke="#444" stroke-width="0.7"/>
<text x="250.40" y="735.40" font-size="7.6">0</text>
<line x1="244.40" y1="695.60" x2="247.70" y2="695.60" stroke="#444" stroke-width="0.7"/>
<text x="250.40" y="698.60" font-size="7.6">20</text>
<line x1="244.40" y1="658.80" x2="247.70" y2="658.80" stroke="#444" stroke-width="0.7"/>
<text x="250.40" y="661.80" font-size="7.6">40</text>
<line x1="244.40" y1="622.00" x2="247.70" y2="622.00" stroke="#444" stroke-width="0.7"/>
<text x="250.40" y="625.00" font-size="7.6">60</text>
<line x1="244.40" y1="585.20" x2="247.70" y2="585.20" stroke="#444" stroke-width="0.7"/>
<text x="250.40" y="588.20" font-size="7.6">80</text>
<line x1="244.40" y1="548.40" x2="247.70" y2="548.40" stroke="#444" stroke-width="0.7"/>
<text x="250.40" y="551.40" font-size="7.6">100</text>
</g>
<g>
<rect x="303.00" y="548.40" width="48.05" height="46.30" fill="#ffffff"/>
<rect x="350.75" y="548.40" width="48.05" height="46.30" fill="#ffffff"/>
<rect x="398.50" y="548.40" width="48.05" height="46.30" fill="#dceaf4"/>
<rect x="446.25" y="548.40" width="48.05" height="46.30" fill="#267db7"/>
<rect x="303.00" y="594.40" width="48.05" height="46.30" fill="#ffffff"/>
<rect x="350.75" y="594.40" width="48.05" height="46.30" fill="#ffffff"/>
<rect x="398.50" y="594.40" width="48.05" height="46.30" fill="#1472b2"/>
<rect x="446.25" y="594.40" width="48.05" height="46.30" fill="#ffffff"/>
<rect x="303.00" y="640.40" width="48.05" height="46.30" fill="#ffffff"/>
<rect x="350.75" y="640.40" width="48.05" height="46.30" fill="#63a1cb"/>
<rect x="398.50" y="640.40" width="48.05" height="46.30" fill="#ffffff"/>
<rect x="446.25" y="640.40" width="48.05" height="46.30" fill="#a8cbe2"/>
<rect x="303.00" y="686.40" width="48.05" height="46.30" fill="#0368ac"/>
<rect x="350.75" y="686.40" width="48.05" height="46.30" fill="#ffffff"/>
<rect x="398.50" y="686.40" width="48.05" height="46.30" fill="#ffffff"/>
<rect x="446.25" y="686.40" width="48.05" height="46.30" fill="#ffffff"/>
<text x="326.88" y="575.70" font-size="11.8" text-anchor="middle" fill="#000">1.65</text>
<text x="374.62" y="575.70" font-size="11.8" text-anchor="middle" fill="#000">0.83</text>
<text x="422.38" y="575.70" font-size="11.8" text-anchor="middle" fill="#000">14.05</text>
<text x="470.12" y="575.70" font-size="11.8" text-anchor="middle" fill="#fff">83.47</text>
<text x="326.88" y="621.70" font-size="11.8" text-anchor="middle" fill="#000">0.23</text>
<text x="374.62" y="621.70" font-size="11.8" text-anchor="middle" fill="#000">0.00</text>
<text x="422.38" y="621.70" font-size="11.8" text-anchor="middle" fill="#fff">90.05</text>
<text x="470.12" y="621.70" font-size="11.8" text-anchor="middle" fill="#000">0.72</text>
<text x="326.88" y="667.70" font-size="11.8" text-anchor="middle" fill="#000">0.31</text>
<text x="374.62" y="667.70" font-size="11.8" text-anchor="middle" fill="#000">62.85</text>
<text x="422.38" y="667.70" font-size="11.8" text-anchor="middle" fill="#000">0.31</text>
<text x="470.12" y="667.70" font-size="11.8" text-anchor="middle" fill="#000">36.53</text>
<text x="326.88" y="713.70" font-size="11.8" text-anchor="middle" fill="#fff">97.81</text>
<text x="374.62" y="713.70" font-size="11.8" text-anchor="middle" fill="#000">0.14</text>
<text x="422.38" y="713.70" font-size="11.8" text-anchor="middle" fill="#000">1.84</text>
<text x="470.12" y="713.70" font-size="11.8" text-anchor="middle" fill="#000">0.21</text>
<rect x="303.00" y="548.40" width="191.00" height="184.00" fill="none" stroke="#1a1a1a" stroke-width="0.85"/>
<line x1="326.88" y1="732.40" x2="326.88" y2="735.90" stroke="#111" stroke-width="0.8"/>
<text x="325.98" y="743.60" font-size="9.5" text-anchor="middle">SR</text>
<line x1="374.62" y1="732.40" x2="374.62" y2="735.90" stroke="#111" stroke-width="0.8"/>
<text x="373.73" y="743.60" font-size="9.5" text-anchor="middle">SM</text>
<line x1="422.38" y1="732.40" x2="422.38" y2="735.90" stroke="#111" stroke-width="0.8"/>
<text x="421.48" y="743.60" font-size="9.5" text-anchor="middle">CDM</text>
<line x1="470.12" y1="732.40" x2="470.12" y2="735.90" stroke="#111" stroke-width="0.8"/>
<text x="469.23" y="743.60" font-size="9.5" text-anchor="middle">CM</text>
<line x1="299.50" y1="571.40" x2="303.00" y2="571.40" stroke="#111" stroke-width="0.8"/>
<text transform="translate(294.40,572.20) rotate(-60)" x="0" y="3.15" font-size="9.5" text-anchor="middle">CM</text>
<line x1="299.50" y1="617.40" x2="303.00" y2="617.40" stroke="#111" stroke-width="0.8"/>
<text transform="translate(292.90,620.90) rotate(-60)" x="0" y="3.15" font-size="9.5" text-anchor="middle">CDM</text>
<line x1="299.50" y1="663.40" x2="303.00" y2="663.40" stroke="#111" stroke-width="0.8"/>
<text transform="translate(294.25,663.50) rotate(-60)" x="0" y="3.15" font-size="9.5" text-anchor="middle">SM</text>
<line x1="299.50" y1="709.40" x2="303.00" y2="709.40" stroke="#111" stroke-width="0.8"/>
<text transform="translate(294.65,709.40) rotate(-60)" x="0" y="3.15" font-size="9.5" text-anchor="middle">SR</text>
<text x="398.50" y="756.90" font-size="12.2" text-anchor="middle">Predicted lithology</text>
<text transform="translate(279.20,640.40) rotate(-90)" font-size="12.2" text-anchor="middle">True lithology</text>
<text x="377.60" y="543.40" font-size="12" font-style="italic">W</text>
<text x="387.00" y="545.70" font-size="8">B</text>
<text x="393.50" y="544.60" font-size="11.5" stroke="#000" stroke-width="0.25" style="font-family:'WenQuanYi Zen Hei','DejaVu Sans',sans-serif">→</text>
<text x="404.80" y="543.40" font-size="12" font-style="italic">W</text>
<text x="414.80" y="545.70" font-size="8">A</text>
<rect x="497.40" y="548.40" width="13.50" height="184.00" fill="#0368ac"/>
<rect x="497.40" y="554.53" width="13.50" height="177.87" fill="#0c6daf"/>
<rect x="497.40" y="560.67" width="13.50" height="171.73" fill="#1472b2"/>
<rect x="497.40" y="566.80" width="13.50" height="165.60" fill="#1d78b5"/>
<rect x="497.40" y="572.93" width="13.50" height="159.47" fill="#267db7"/>
<rect x="497.40" y="579.07" width="13.50" height="153.33" fill="#2e82ba"/>
<rect x="497.40" y="585.20" width="13.50" height="147.20" fill="#3787bd"/>
<rect x="497.40" y="591.33" width="13.50" height="141.07" fill="#408cc0"/>
<rect x="497.40" y="597.47" width="13.50" height="134.93" fill="#4992c3"/>
<rect x="497.40" y="603.60" width="13.50" height="128.80" fill="#5197c6"/>
<rect x="497.40" y="609.73" width="13.50" height="122.67" fill="#5a9cc9"/>
<rect x="497.40" y="615.87" width="13.50" height="116.53" fill="#63a1cb"/>
<rect x="497.40" y="622.00" width="13.50" height="110.40" fill="#6ba6ce"/>
<rect x="497.40" y="628.13" width="13.50" height="104.27" fill="#74acd1"/>
<rect x="497.40" y="634.27" width="13.50" height="98.13" fill="#7db1d4"/>
<rect x="497.40" y="640.40" width="13.50" height="92.00" fill="#85b6d7"/>
<rect x="497.40" y="646.53" width="13.50" height="85.87" fill="#8ebbda"/>
<rect x="497.40" y="652.67" width="13.50" height="79.73" fill="#97c1dd"/>
<rect x="497.40" y="658.80" width="13.50" height="73.60" fill="#9fc6e0"/>
<rect x="497.40" y="664.93" width="13.50" height="67.47" fill="#a8cbe2"/>
<rect x="497.40" y="671.07" width="13.50" height="61.33" fill="#b1d0e5"/>
<rect x="497.40" y="677.20" width="13.50" height="55.20" fill="#b9d5e8"/>
<rect x="497.40" y="683.33" width="13.50" height="49.07" fill="#c2dbeb"/>
<rect x="497.40" y="689.47" width="13.50" height="42.93" fill="#cbe0ee"/>
<rect x="497.40" y="695.60" width="13.50" height="36.80" fill="#d4e5f1"/>
<rect x="497.40" y="701.73" width="13.50" height="30.67" fill="#dceaf4"/>
<rect x="497.40" y="707.87" width="13.50" height="24.53" fill="#e5eff6"/>
<rect x="497.40" y="714.00" width="13.50" height="18.40" fill="#eef5f9"/>
<rect x="497.40" y="720.13" width="13.50" height="12.27" fill="#f6fafc"/>
<rect x="497.40" y="726.27" width="13.50" height="6.13" fill="#ffffff"/>
<rect x="497.40" y="548.40" width="13.50" height="184.00" fill="none" stroke="#5a5a5a" stroke-width="0.6"/>
<line x1="510.90" y1="732.40" x2="514.20" y2="732.40" stroke="#444" stroke-width="0.7"/>
<text x="516.90" y="735.40" font-size="7.6">0</text>
<line x1="510.90" y1="695.60" x2="514.20" y2="695.60" stroke="#444" stroke-width="0.7"/>
<text x="516.90" y="698.60" font-size="7.6">20</text>
<line x1="510.90" y1="658.80" x2="514.20" y2="658.80" stroke="#444" stroke-width="0.7"/>
<text x="516.90" y="661.80" font-size="7.6">40</text>
<line x1="510.90" y1="622.00" x2="514.20" y2="622.00" stroke="#444" stroke-width="0.7"/>
<text x="516.90" y="625.00" font-size="7.6">60</text>
<line x1="510.90" y1="585.20" x2="514.20" y2="585.20" stroke="#444" stroke-width="0.7"/>
<text x="516.90" y="588.20" font-size="7.6">80</text>
<line x1="510.90" y1="548.40" x2="514.20" y2="548.40" stroke="#444" stroke-width="0.7"/>
<text x="516.90" y="551.40" font-size="7.6">100</text>
</g>
<text x="266.4" y="253.6" font-size="14.5" stroke="#000" stroke-width="0.4" text-anchor="middle">(a)</text>
<text x="266.5" y="519.0" font-size="14" text-anchor="middle" style="font-family:'Liberation Sans',Arial,sans-serif">(b)</text>
<text x="266.4" y="784.3" font-size="13.5" font-weight="bold" text-anchor="middle" style="font-family:'Liberation Sans',Arial,sans-serif">(c)</text>
</svg></body></html>
